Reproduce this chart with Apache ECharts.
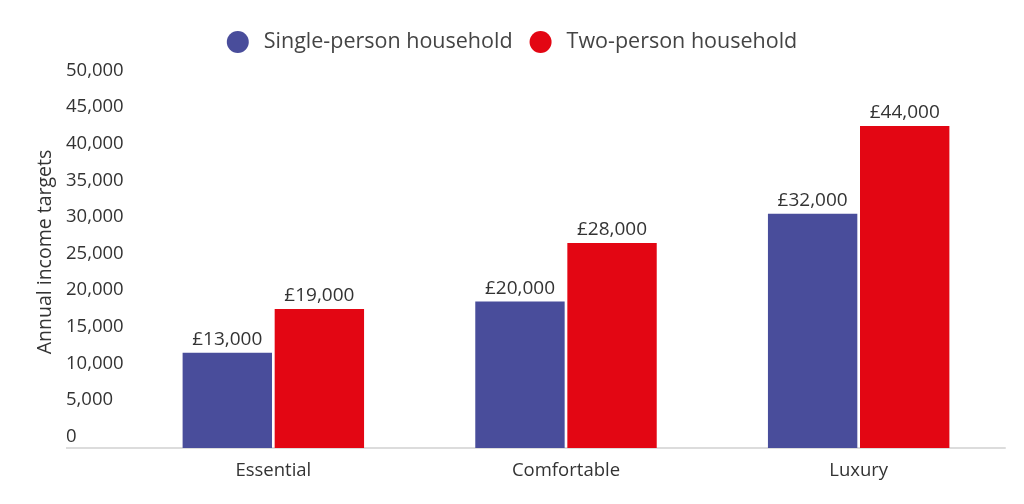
<!DOCTYPE html>
<html lang="en">
<head>
    <meta charset="UTF-8">
    <title>Annual income targets</title>
    <script src="https://cdn.jsdelivr.net/npm/echarts@6/dist/echarts.min.js"></script>
    <style>
        html, body { margin: 0; padding: 0; background: #fff; }
        .demo { width: 1024px; height: 504px; }
    </style>
</head>
<body>
    <div class="demo"></div>
    <script>
        var categories = ['Essential', 'Comfortable', 'Luxury']
        var singlePerson = [13000, 20000, 32000]
        var twoPerson = [19000, 28000, 44000]
        var yTicks = [0, 5000, 10000, 15000, 20000, 25000, 30000, 35000, 40000, 45000, 50000]

        var chart = echarts.init(document.querySelector('.demo'))
        var font = '"Open Sans", "Noto Sans", sans-serif'

        function money(p) {
            return '£' + p.value.toLocaleString('en-GB')
        }

        var option = {
            textStyle: { fontFamily: font },
            legend: {
                top: 26,
                left: 'center',
                icon: 'circle',
                itemWidth: 22,
                itemHeight: 22,
                itemGap: 17,
                textStyle: { fontSize: 21.5, color: '#444', fontFamily: font, padding: [0, 0, 0, 10] }
            },
            grid: { left: 127, right: 19, top: 82, bottom: 56 },
            xAxis: {
                type: 'category',
                data: categories,
                axisLine: { lineStyle: { color: '#dcdcdc', width: 2 } },
                axisTick: { show: false },
                axisLabel: { fontSize: 18.5, color: '#333', margin: 13, fontFamily: font }
            },
            yAxis: {
                type: 'value',
                min: yTicks[0],
                max: yTicks[yTicks.length - 1],
                interval: 5000,
                name: 'Annual income targets',
                nameLocation: 'middle',
                nameGap: 71,
                nameTextStyle: { fontSize: 19.5, color: '#333', fontFamily: font, padding: [0, 0, 0, 26] },
                splitLine: { show: false },
                axisLine: { show: false },
                axisTick: { show: false },
                axisLabel: {
                    align: 'left',
                    margin: 61,
                    verticalAlign: 'bottom',
                    padding: [0, 0, 2, 0],
                    fontSize: 18.5,
                    color: '#333',
                    fontFamily: font,
                    formatter: function (v) { return v.toLocaleString('en-GB') }
                }
            },
            series: [
                {
                    name: 'Single-person household',
                    type: 'bar',
                    data: singlePerson,
                    barGap: '3%',
                    barCategoryGap: '38%',
                    itemStyle: { color: '#494d9b' },
                    label: { show: true, position: 'top', distance: 4, fontSize: 19, color: '#333', formatter: money }
                },
                {
                    name: 'Two-person household',
                    type: 'bar',
                    data: twoPerson,
                    itemStyle: { color: '#e30613' },
                    label: { show: true, position: 'top', distance: 4, fontSize: 19, color: '#333', formatter: money }
                }
            ]
        }

        chart.setOption(option)

        // baseline runs on under the y labels
        var y0 = chart.convertToPixel({ yAxisIndex: 0 }, 0)
        chart.setOption({
            graphic: [{
                type: 'line',
                shape: { x1: 66, y1: y0, x2: 128, y2: y0 },
                style: { stroke: '#dcdcdc', lineWidth: 2 }
            }]
        })
    </script>
</body>
</html>
